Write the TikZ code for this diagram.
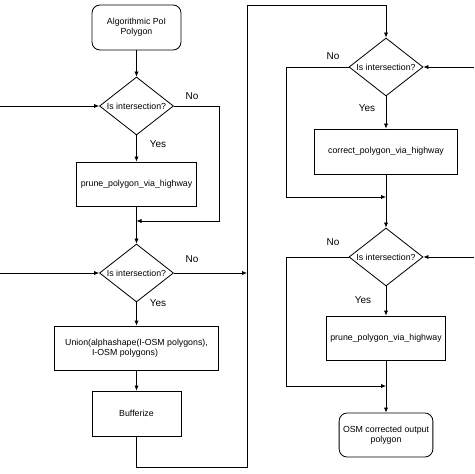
\documentclass[tikz,border=0pt]{standalone}
\usepackage{fontspec}
\setmainfont{Liberation Sans}
\usetikzlibrary{arrows.meta}
\usetikzlibrary{shapes.geometric}

\begin{document}
\begin{tikzpicture}[x=0.3mm,y=-0.3mm,>={Latex[length=1.5mm,width=1.3mm]},line width=0.7pt,
        every node/.style={font=\fontsize{7.5}{8.5}\selectfont},
        proc/.style={draw,rectangle,minimum width=35.7mm,minimum height=13.2mm,align=center},
        term/.style={draw,rectangle,rounded corners=2.4mm,minimum width=26.7mm,minimum height=13.5mm,align=center},
        decide/.style={draw,diamond,aspect=1.28,inner sep=0pt,minimum width=22.2mm,minimum height=17.4mm},
        lbl/.style={font=\fontsize{8.5}{10}\selectfont}]
        \def\colL{136.5}
        \def\colR{386}
        \useasboundingbox (0,0) rectangle (474,474);

        \node[term] (start) at (\colL,27.5) {Algorithmic PoI\\Polygon};
        \node[decide] (isecA) at (\colL,106) {Is intersection?};
        \node[proc] (pruneA) at (\colL,184) {prune\_polygon\_via\_highway};
        \node[decide] (isecB) at (\colL,273) {Is intersection?};
        \node[proc,minimum width=49.2mm] (union) at (\colL,348) {Union(alphashape(I-OSM polygons),\\I-OSM polygons)\hspace*{6.9mm}};
        \node[proc,minimum width=26.7mm,minimum height=13.5mm] (buffer) at (\colL,413.5) {Bufferize};

        \node[decide] (isecC) at (\colR,67) {Is intersection?};
        \node[proc,minimum width=42.9mm,minimum height=13.5mm] (correct) at (\colR,151.5) {correct\_polygon\_via\_highway};
        \node[decide] (isecD) at (\colR,257) {Is intersection?};
        \node[proc] (pruneB) at (\colR,338) {prune\_polygon\_via\_highway};
        \node[term,minimum width=27mm,minimum height=13.2mm] (output) at (\colR,435) {OSM corrected output\\polygon};

        \coordinate (inA) at (0,106);
        \coordinate (noA) at (219,106);
        \coordinate (joinA) at (\colL,221);
        \coordinate (inB) at (0,273);
        \coordinate (noB) at (247,273);
        \coordinate (loopA) at (\colL,467);
        \coordinate (loopB) at (247,467);
        \coordinate (loopC) at (247,5);
        \coordinate (loopD) at (\colR,5);
        \coordinate (inC) at (474,67);
        \coordinate (noC) at (286,67);
        \coordinate (joinC) at (\colR,197);
        \coordinate (inD) at (474,257);
        \coordinate (noD) at (286,257);
        \coordinate (joinD) at (\colR,386);

        \draw[->] (start) -- (isecA);
        \draw[->] (inA) -- (isecA.west);
        \draw[->] (isecA.east) -- (noA) |- (joinA);
        \draw[->] (isecA) -- (pruneA);
        \draw[->] (pruneA) -- (isecB);
        \draw[->] (inB) -- (isecB.west);
        \draw[->] (isecB.east) -- (noB);
        \draw[->] (isecB) -- (union);
        \draw[->] (union) -- (buffer);
        \draw[->] (buffer) -- (loopA) -- (loopB) -- (loopC) -- (loopD) -- (isecC.north);

        \draw[->] (inC) -- (isecC.east);
        \draw[->] (isecC.west) -- (noC) |- (joinC);
        \draw[->] (isecC) -- (correct);
        \draw[->] (correct) -- (isecD);
        \draw[->] (inD) -- (isecD.east);
        \draw[->] (isecD.west) -- (noD) |- (joinD);
        \draw[->] (isecD) -- (pruneB);
        \draw[->] (pruneB) -- (output);

        \node[lbl] (noLblA) at (192,96) {No};
        \node[lbl] (yesLblA) at (158,144) {Yes};
        \node[lbl] (noLblB) at (192,259) {No};
        \node[lbl] (yesLblB) at (158,303) {Yes};
        \node[lbl] (noLblC) at (333,56) {No};
        \node[lbl] (yesLblC) at (367,108) {Yes};
        \node[lbl] (noLblD) at (333,242) {No};
        \node[lbl] (yesLblD) at (363,300) {Yes};
    \end{tikzpicture}
\end{document}
